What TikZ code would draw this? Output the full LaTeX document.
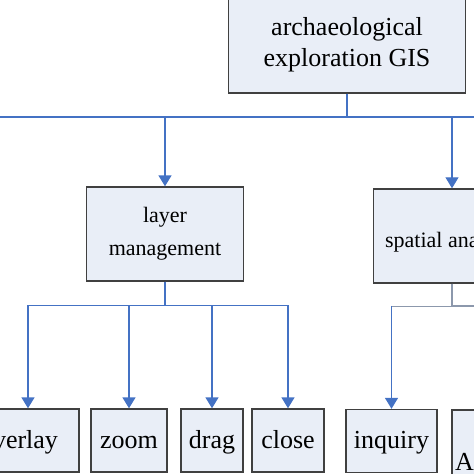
\documentclass[tikz,border=0pt]{standalone}
\usepackage{fontspec}
\setmainfont{Liberation Serif}
\usetikzlibrary{arrows.meta,positioning,calc}
\definecolor{boxfill}{RGB}{233,238,247}
\definecolor{boxline}{RGB}{64,64,64}
\definecolor{linkblue}{RGB}{68,114,196}
\definecolor{linkgray}{RGB}{140,152,172}
\begin{document}
\begin{tikzpicture}[
    x=1pt, y=-1pt,
    box/.style={rectangle, draw=boxline, fill=boxfill, line width=1.4pt, inner sep=0pt, align=center},
    topbox/.style={box, minimum width=237pt, minimum height=96pt, font=\fontsize{26}{31}\selectfont},
    midbox/.style={box, minimum width=157pt, minimum height=94pt, font=\fontsize{22}{33}\selectfont},
    leaf/.style={box, minimum height=63pt, text height=21pt, text depth=5.5pt, font=\fontsize{26}{31}\selectfont},
    link/.style={line width=1.5pt, linkblue},
    arrow/.style={link, -{Triangle[width=13pt,length=11pt]}},
    faint/.style={line width=1.1pt, linkgray}
]
    \useasboundingbox (0,0) rectangle (474,474);
    \clip (0,0) rectangle (474,474);

    \node[topbox] (gis) at (347,45) {archaeological\\exploration GIS};
    \node[midbox] (lm) at (165,234) {layer\\management};
    \node[midbox, text height=27pt] (sa) at (452,236) {spatial analysis};

    \node[leaf, minimum width=120pt] (ov) at (19,440.5) {overlay};
    \node[leaf, minimum width=76pt] (zo) at (129,440.5) {zoom};
    \node[leaf, minimum width=62pt] (dr) at (212,440.5) {drag};
    \node[leaf, minimum width=72pt] (cl) at (288,440.5) {close};
    \node[leaf, minimum width=91pt] (iq) at (391.5,441) {inquiry};
    \node[leaf, minimum width=100pt, minimum height=80pt] (at) at (502,450) {};
    \node[font=\fontsize{26}{31}\selectfont, anchor=west, inner sep=0pt] (atx) at (455,462) {A};

    \coordinate (busL) at (-10,117);
    \coordinate (busR) at (490,117);
    \coordinate (saR) at (490,306);

    % top level
    \draw[arrow, line width=1.1pt] (gis.south) -- ++(0,24) -| (sa);
    \draw[link] (gis.south) |- (busL);
    \draw[link] (gis.south) |- (busR);
    \draw[arrow] (gis.south) -- ++(0,24) -| (lm);

    % layer management
    \draw[arrow] (lm.south) -- ++(0,24) -| (ov.north -| 28,0);
    \draw[arrow] (lm.south) -- ++(0,24) -| (zo);
    \draw[arrow] (lm.south) -- ++(0,24) -| (dr);
    \draw[arrow] (lm.south) -- ++(0,24) -| (cl);

    % spatial analysis
    \draw[faint] (sa.south) |- (saR);
    \draw[faint] (sa.south) -- ++(0,23) -| ($(iq.north)+(0,-103)$);
    \draw[arrow] ($(iq.north)+(0,-103)$) -- (iq);
\end{tikzpicture}
\end{document}
